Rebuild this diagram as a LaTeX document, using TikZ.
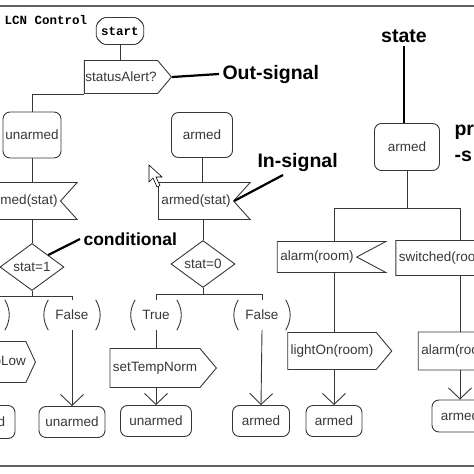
\documentclass[tikz,border=0pt]{standalone}
\usepackage{fontspec}
\usepackage{tikz}
\usetikzlibrary{shapes.geometric}
\usetikzlibrary{shapes.symbols}
\usetikzlibrary{shapes.misc}
\usetikzlibrary{arrows.meta}
\definecolor{linegray}{RGB}{55,55,55}
\definecolor{rulegray}{RGB}{95,95,95}
\newfontfamily\sdlsans{Liberation Sans}
\newfontfamily\sdlmono{Liberation Mono}
\newcommand\boxfont{\sdlsans\fontsize{13.5}{16}\selectfont}
\newcommand\notefont{\sdlsans\bfseries\fontsize{19.5}{26}\selectfont}
\newcommand\condfont{\sdlsans\bfseries\fontsize{17.5}{21}\selectfont}
\newcommand\titlefont{\sdlmono\bfseries\fontsize{12.5}{14}\selectfont}
\tikzset{
  box/.style={draw=linegray, line width=0.9pt, font=\boxfont, text=linegray},
  terminal/.style={box, chamfered rectangle, chamfered rectangle xsep=4pt, rounded corners=2pt, font=\titlefont, text=black, minimum width=46pt, minimum height=27pt, inner sep=1pt},
  state/.style={box, rectangle, rounded corners=7pt, inner xsep=2pt, minimum height=31pt},
  decision/.style={box, diamond, aspect=1.36, inner sep=0pt, minimum width=64pt, minimum height=47pt},
  sigout/.style={box, signal, signal to=east, signal from=nowhere, signal pointer angle=100, inner xsep=3pt},
  sigin/.style={box, signal, signal from=east, signal to=nowhere, signal pointer angle=96, inner xsep=3pt},
  answer/.style={font=\boxfont, text=linegray, inner xsep=7pt, minimum height=30pt,
    append after command={(\tikzlastnode.north west) edge[flow, bend right=30] (\tikzlastnode.south west)
      (\tikzlastnode.north east) edge[flow, bend left=30] (\tikzlastnode.south east)}},
  flow/.style={draw=linegray, line width=0.9pt},
  arr/.style={flow, -{Straight Barb[length=11pt,width=23pt]}},
  callout/.style={draw=black, line width=2.2pt},
  note/.style={font=\notefont, text=black}
}

\begin{document}
\begin{tikzpicture}[x=1pt,y=-1pt]
\useasboundingbox (0,0) rectangle (474,474);
\clip (0,0) rectangle (474,474);
\foreach \y in {6,466} {\draw [rulegray, line width=2pt] (0,\y)--(474,\y);}

\node [anchor=west, font=\titlefont] (title) at (1,20) {LCN Control};
\node [terminal] (start) at (120,31) {start};
\node [sigout, minimum height=33pt, inner xsep=1pt] (alert) at (121,77) {statusAlert?};

\node [state, minimum width=58pt, minimum height=46pt] (unarmedA) at (32,135) {unarmed};
\node [state, minimum width=61pt, minimum height=45pt] (armedA) at (202,135) {armed};
\node [sigin, minimum height=37pt] (statA) at (23,201) {armed(stat)};
\node [sigin, minimum height=37pt] (statB) at (196,201) {armed(stat)};
\node [decision] (condA) at (32,267) {stat=1};
\node [decision] (condB) at (203,264) {stat=0};
\node [answer] (trueA) at (-16,315) {True};
\node [answer] (falseA) at (72,315) {False};
\node [answer] (trueB) at (156,315) {True};
\node [answer] (falseB) at (262,315) {False};
\node [sigout, minimum height=41pt, inner xsep=0pt, signal pointer angle=130] (lowA) at (-12,362) {setTempLow};
\node [sigout, minimum height=39pt] (normB) at (155,368) {setTempNorm};
\node [state, minimum width=58pt, minimum height=33pt] (armedLow) at (-14,422) {armed};
\node [state, minimum width=66pt] (unarmedF) at (72,422) {unarmed};
\node [state, minimum width=71pt] (unarmedT) at (156,421) {unarmed};
\node [state, minimum width=57pt] (armedF) at (261,421) {armed};

\node [state, minimum width=65pt, minimum height=47pt] (armedR) at (407,147) {armed};
\node [sigin, minimum height=31pt, signal pointer angle=56] (alarmIn) at (317,257) {alarm(room)};
\node [sigin, minimum height=35pt] (switchIn) at (445,258) {switched(room)};
\node [sigout, minimum height=37pt] (lightOut) at (332,351) {lightOn(room)};
\node [sigout, minimum height=38pt] (alarmOut) at (458,351) {alarm(room)};
\node [state, minimum width=56pt] (armedL) at (334,421) {armed};
\node [state, minimum width=56pt, minimum height=32pt] (armedS) at (460,416) {armed};

\draw [flow] (start.south) -- (start.south |- alert.north);
\draw [flow] (alert.west |- alert.south) -| (unarmedA.north);
\draw [flow] (unarmedA.south) -- (unarmedA.south |- statA.north);
\draw [flow] (condA.north |- statA.south) -- (condA.north);
\draw [flow] (condA.south) -- ++(0,5) coordinate (forkA) -| (trueA.north);
\draw [flow] (forkA) -| (falseA.north);
\draw [flow] (trueA.south) -- (trueA.south |- lowA.north);
\draw [arr] (armedLow.north |- lowA.south) -- (armedLow.north);
\draw [arr] (falseA.south) -- (unarmedF.north);

\draw [flow] (armedA.south) -- (armedA.south |- statB.north);
\draw [flow] (condB.north |- statB.south) -- (condB.north);
\draw [flow] (condB.south) -- ++(0,6) coordinate (forkB) -| (trueB.north);
\draw [flow] (forkB) -| (falseB.north);
\draw [flow] (trueB.south) -- (trueB.south |- normB.north);
\draw [arr] (unarmedT.north |- normB.south) -- (unarmedT.north);
\draw [arr] (falseB.south) -- (armedF.north);

\draw [flow] (armedR.south) -- ++(0,37) coordinate (forkR) -| (armedL.north |- alarmIn.north);
\draw [flow] (forkR) -| (armedS.north |- switchIn.north);
\draw [flow] (armedL.north |- alarmIn.south) -- (armedL.north |- lightOut.north);
\draw [arr] (armedL.north |- lightOut.south) -- (armedL.north);
\draw [flow] (armedS.north |- switchIn.south) -- (armedS.north |- alarmOut.north);
\draw [arr] (armedS.north |- alarmOut.south) -- (armedS.north);

\draw [black, fill=white, line width=0.6pt] (149,165) -- (149,182) -- (153,178) -- (157,187) -- (160,185.5) -- (156,177) -- (162,177) -- cycle;

\node [note, anchor=west] (outsig) at (219,74) {Out-signal};
\draw [callout] (alert.east) -- (outsig.west);
\node [note, anchor=west] (insig) at (254,162) {In-signal};
\coordinate (insigEnd) at (283,175);
\draw [callout] (statB.east) -- (insigEnd);
\node [anchor=west, font=\condfont, text=black] (cond) at (80,239) {conditional};
\draw [callout] (condA.north east) -- (cond.west);
\node [note] (stlabel) at (404,36) {state};
\draw [callout] (stlabel.south) -- (stlabel.south |- armedR.north);
\node [note, anchor=west, align=left] (prs) at (451,143) {pr\\-s};

\end{tikzpicture}
\end{document}
